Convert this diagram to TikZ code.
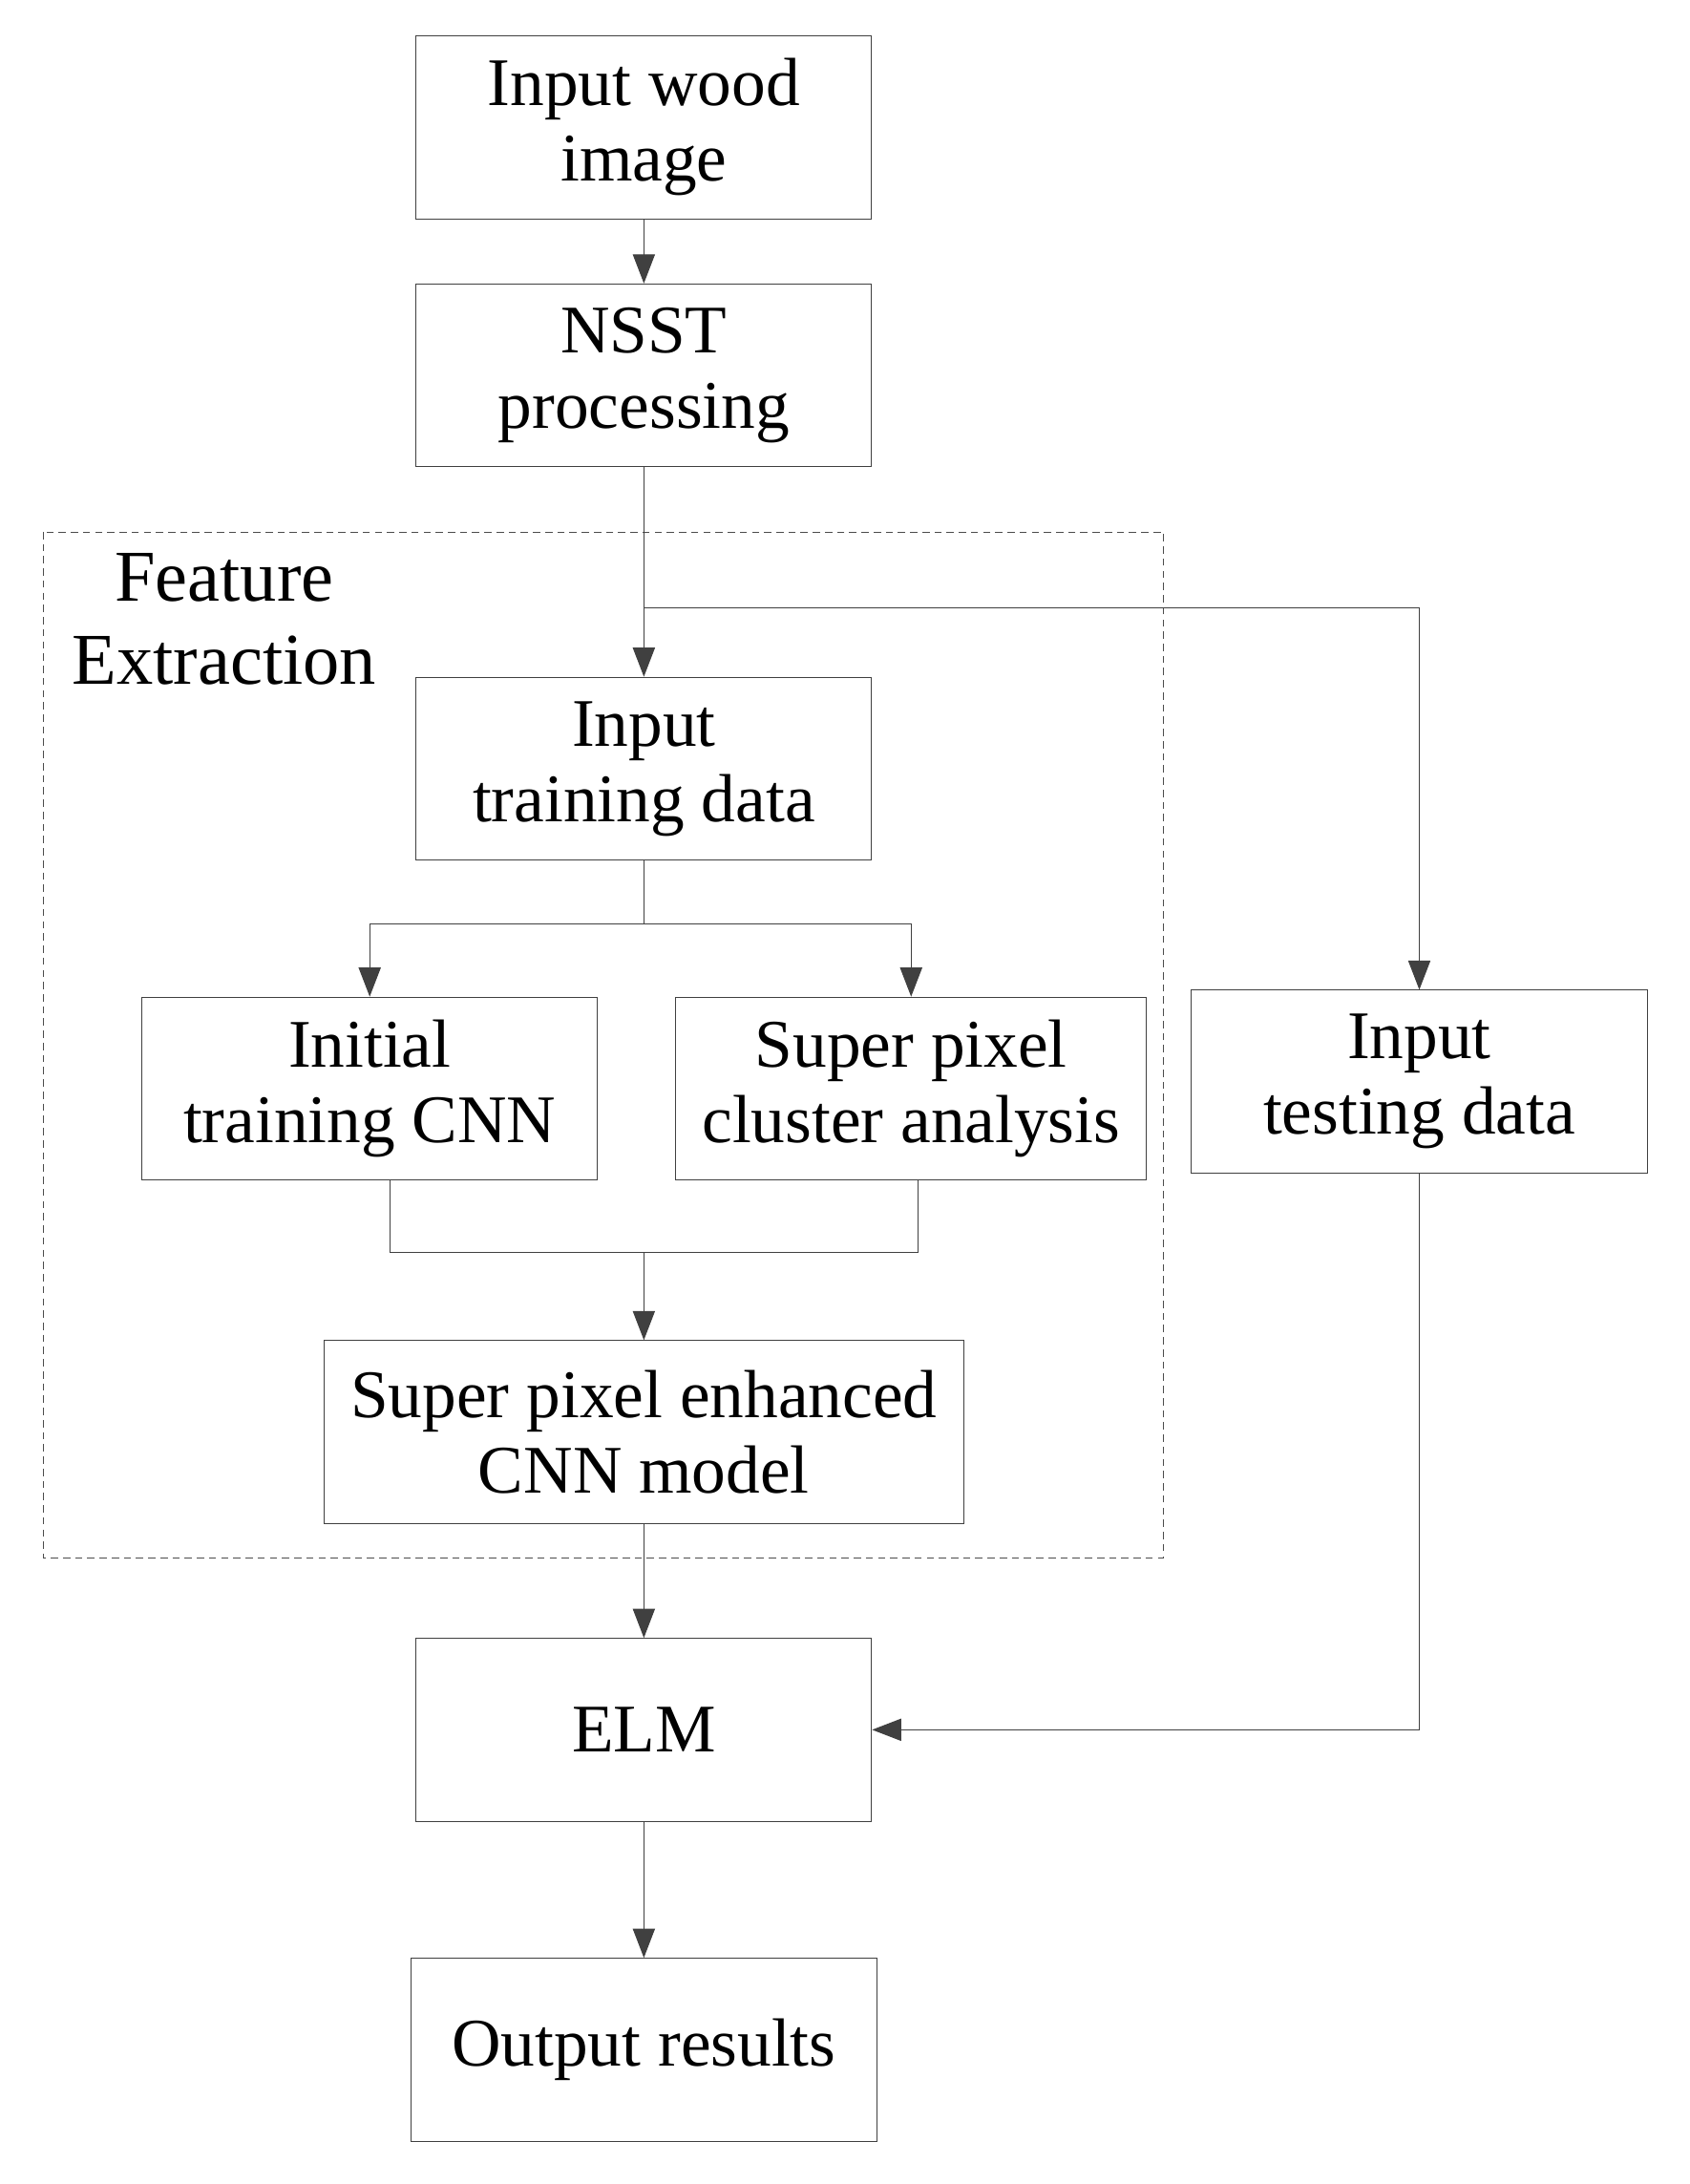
\documentclass[tikz,border=0pt]{standalone}
\usepackage{fontspec}
\setmainfont{Liberation Serif}
\usetikzlibrary{positioning,arrows.meta}

\begin{document}
\begin{tikzpicture}[x=0.02cm,y=-0.02cm,
	box/.style={rectangle, draw=black!75, thin, minimum width=6.58cm, minimum height=2.64cm, align=center, inner sep=0pt, font=\fontsize{28}{31}\selectfont},
	arr/.style={-{Triangle[length=0.42cm,width=0.32cm]}, draw=black!75, thin},
	ln/.style={draw=black!75, thin},
	]
	\useasboundingbox (0,0) rectangle (1220,1577);
	%Frame
	\draw[black!70, densely dashed, very thin] (31,384) rectangle (840,1125);
	\node[font=\fontsize{30}{34}\selectfont, align=center] (fe) at (162,447) {Feature\\Extraction};
	%Nodes
	\node[box] (in) at (465,92) {Input wood\\image};
	\node[box] (nsst) at (465,271) {NSST\\processing};
	\node[box] (train) at (465,555) {Input\\training data};
	\node[box] (cnn) at (267,786) {Initial\\training CNN};
	\node[box, minimum width=6.8cm] (spc) at (658,786) {Super pixel\\cluster analysis};
	\node[box, minimum width=9.24cm] (enh) at (465,1034) {Super pixel enhanced\\CNN model};
	\node[box] (test) at (1025,781) {Input\\testing data};
	\node[box] (elm) at (465,1249) {ELM};
	\node[box, minimum width=6.74cm] (out) at (465,1480) {Output results};
	\coordinate (split) at (465,439);
	\coordinate (fork) at (465,667);
	\coordinate (join) at (465,904);
	%Lines
	\draw[arr] (in) -- (nsst);
	\draw[arr] (nsst) -- (train);
	\draw[arr] (split) -| (test);
	\draw[ln] (train) -- (fork);
	\draw[arr] (fork) -| (cnn);
	\draw[arr] (fork) -| (spc);
	\draw[ln] (cnn.south -| 282,0) |- (join);
	\draw[ln] (spc.south -| 663,0) |- (join);
	\draw[arr] (join) -- (enh);
	\draw[arr] (enh) -- (elm);
	\draw[arr] (test) |- (elm);
	\draw[arr] (elm) -- (out);
\end{tikzpicture}
\end{document}
